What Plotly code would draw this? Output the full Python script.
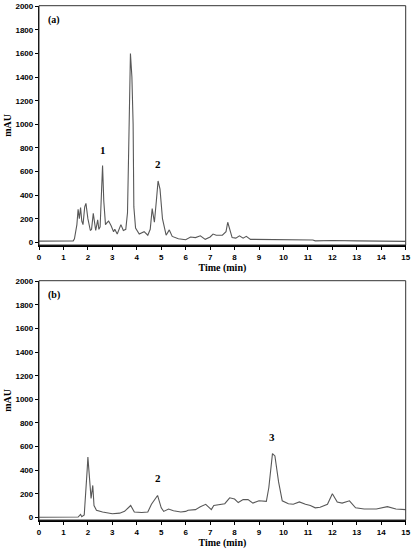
import plotly.graph_objects as go

# chromatogram (a)
time_a = [0, 0.5, 1.0, 1.4, 1.45, 1.55, 1.6, 1.65, 1.7, 1.75, 1.8, 1.87, 1.92, 2.0, 2.1, 2.15,
          2.22, 2.28, 2.32, 2.4, 2.45, 2.5, 2.56, 2.6, 2.65, 2.72, 2.8, 2.85, 2.95, 3.05, 3.1,
          3.2, 3.35, 3.45, 3.55, 3.62, 3.67, 3.74, 3.8, 3.85, 3.88, 3.95, 4.1, 4.3, 4.45, 4.55,
          4.63, 4.72, 4.8, 4.87, 4.95, 5.05, 5.2, 5.33, 5.45, 5.7, 6.0, 6.2, 6.4, 6.6, 6.8,
          7.0, 7.12, 7.25, 7.5, 7.65, 7.72, 7.8, 7.9, 8.05, 8.2, 8.35, 8.48, 8.65, 9.0, 10.0,
          11.2, 11.3, 12.0, 13.0, 14.0, 15.0]
mau_a = [10, 10, 10, 12, 30, 150, 280, 200, 295, 180, 150, 300, 330, 200, 100, 110,
         245, 120, 100, 190, 110, 130, 400, 650, 350, 150, 170, 180, 140, 90, 110,
         70, 150, 100, 110, 250, 800, 1600, 1400, 1000, 300, 120, 70, 90, 60, 110,
         285, 170, 350, 520, 450, 200, 60, 105, 50, 30, 22, 45, 40, 55, 25,
         45, 70, 60, 60, 90, 170, 120, 40, 35, 55, 35, 50, 25, 25, 22,
         20, 12, 15, 12, 10, 8]

# chromatogram (b)
time_b = [0, 0.5, 1.0, 1.6, 1.7, 1.75, 1.85, 1.92, 1.97, 2.0, 2.05, 2.1, 2.13, 2.2, 2.25,
          2.35, 2.6, 3.0, 3.3, 3.5, 3.75, 3.9, 4.2, 4.45, 4.6, 4.85, 5.0, 5.1, 5.3, 5.5,
          5.8, 6.0, 6.1, 6.4, 6.6, 6.82, 6.95, 7.05, 7.15, 7.4, 7.6, 7.8, 8.0, 8.15, 8.35,
          8.55, 8.75, 9.0, 9.3, 9.4, 9.55, 9.65, 9.8, 9.95, 10.2, 10.4, 10.65, 10.9, 11.1,
          11.3, 11.5, 11.8, 12.0, 12.2, 12.4, 12.7, 12.95, 13.3, 13.8, 14.25, 14.6, 15.0]
mau_b = [0, 0, 0, 2, 25, 5, 20, 200, 400, 510, 350, 200, 160, 270, 100,
         60, 45, 30, 35, 50, 100, 45, 40, 45, 110, 185, 80, 50, 70, 55,
         45, 50, 60, 65, 90, 110, 80, 65, 100, 110, 115, 165, 155, 125, 150,
         150, 120, 140, 135, 250, 540, 520, 300, 140, 115, 110, 130, 110, 100,
         80, 85, 110, 200, 130, 120, 140, 80, 70, 70, 90, 70, 65]

# peak labels
peaks_a = [(2.6, 780, "1"), (4.85, 660, "2")]
peaks_b = [(4.85, 330, "2"), (9.52, 680, "3")]

x_ticks = list(range(0, 16))
y_ticks = list(range(0, 2001, 200))

line_col = "#585858"
tick_font = dict(family="Liberation Sans", size=8, color="black")
title_font = dict(family="Liberation Serif", size=10, color="black")

fig = go.Figure()
fig.add_trace(go.Scatter(x=time_a, y=mau_a, mode="lines", line=dict(color=line_col, width=1.1),
                         xaxis="x", yaxis="y"))
fig.add_trace(go.Scatter(x=time_b, y=mau_b, mode="lines", line=dict(color=line_col, width=1.1),
                         xaxis="x2", yaxis="y2"))

x_dom = [39 / 416, 405.7 / 416]
ya_dom = [1 - 245 / 550, 1 - 5.7 / 550]
yb_dom = [1 - 520 / 550, 1 - 280.7 / 550]


def xaxis_cfg(anchor):
    return dict(domain=x_dom, anchor=anchor, range=[0, 15], tickvals=x_ticks,
                ticktext=["<b>%d</b>" % v for v in x_ticks], tickfont=tick_font,
                ticks="outside", ticklen=3, tickwidth=1, tickcolor="black",
                showline=True, linecolor="black", linewidth=2, showgrid=False,
                zeroline=False, automargin=False,
                title=dict(text="<b>Time (min)</b>", font=title_font, standoff=3))


def yaxis_cfg(anchor, dom):
    return dict(domain=dom, anchor=anchor, range=[-23, 2005], tickvals=y_ticks,
                ticktext=["<b>%d</b>" % v for v in y_ticks], tickfont=tick_font,
                ticks="outside", ticklen=3, tickwidth=1, tickcolor="black",
                showline=True, linecolor="black", linewidth=1.3, showgrid=False,
                zeroline=False, automargin=False,
                title=dict(text="<b>mAU</b>", font=title_font, standoff=1))


annotations = [
    dict(x=0.61, y=1880, xref="x", yref="y", text="<b>(a)</b>", showarrow=False,
         font=dict(family="Liberation Serif", size=10, color="black")),
    dict(x=0.61, y=1880, xref="x2", yref="y2", text="<b>(b)</b>", showarrow=False,
         font=dict(family="Liberation Serif", size=10, color="black")),
]
for t, v, s in peaks_a:
    annotations.append(dict(x=t, y=v, xref="x", yref="y", text="<b>%s</b>" % s, showarrow=False,
                            font=dict(family="Liberation Serif", size=11, color="black")))
for t, v, s in peaks_b:
    annotations.append(dict(x=t, y=v, xref="x2", yref="y2", text="<b>%s</b>" % s, showarrow=False,
                            font=dict(family="Liberation Serif", size=11, color="black")))

# thin frame around each panel
shapes = []
for dom in (ya_dom, yb_dom):
    shapes.append(dict(type="rect", xref="paper", yref="paper", x0=x_dom[0], x1=x_dom[1],
                       y0=dom[0], y1=dom[1], line=dict(color="#333333", width=1)))

fig.update_layout(
    template="none",
    width=416,
    height=550,
    margin=dict(l=0, r=0, t=0, b=0),
    paper_bgcolor="white",
    plot_bgcolor="white",
    showlegend=False,
    xaxis=xaxis_cfg("y"),
    yaxis=yaxis_cfg("x", ya_dom),
    xaxis2=xaxis_cfg("y2"),
    yaxis2=yaxis_cfg("x2", yb_dom),
    annotations=annotations,
    shapes=shapes,
)

# the page body has a default 8px margin; drop it so the figure fills the window
fig.write_html("out.html", config={"displayModeBar": False},
               post_script="document.body.style.margin='0';document.body.style.overflow='hidden';")
